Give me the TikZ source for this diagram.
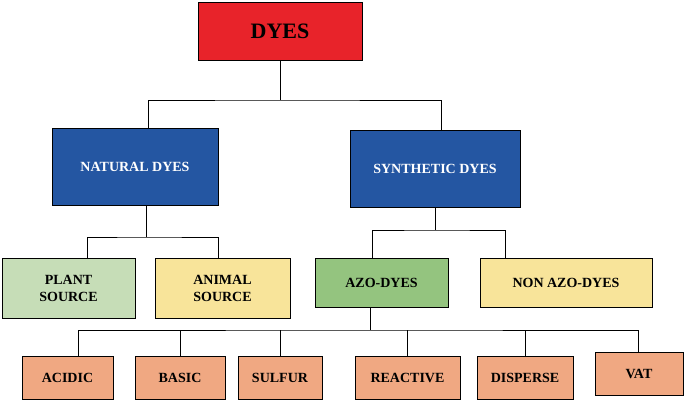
\documentclass[tikz,border=0pt]{standalone}
\usepackage{fontspec}
\setmainfont{Liberation Serif}
\begin{document}
\begin{tikzpicture}[x=1pt,y=-1pt,
  box/.style={draw=black,line width=0.8pt,inner sep=0pt,align=center,font=\bfseries\fontsize{14}{17}\selectfont},
  ln/.style={draw=black,line width=1pt}]
\useasboundingbox (0,0) rectangle (685,400);
\definecolor{cred}{HTML}{E8232A}
\definecolor{cblue}{HTML}{2456A2}
\definecolor{cgreenl}{HTML}{C6DDB7}
\definecolor{cyel}{HTML}{F8E49A}
\definecolor{cgreen}{HTML}{94C47F}
\definecolor{corange}{HTML}{F0A882}
\node[box,fill=cred,minimum width=164pt,minimum height=58pt,font=\bfseries\fontsize{22}{24}\selectfont] (dyes) at (280,31) {DYES};
\node[box,fill=cblue,text=white,minimum width=166pt,minimum height=77pt] (nat) at (135,166.5) {NATURAL DYES};
\node[box,fill=cblue,text=white,minimum width=170pt,minimum height=77pt] (syn) at (435,168.5) {SYNTHETIC DYES};
\node[box,fill=cgreenl,minimum width=133pt,minimum height=60pt] (plant) at (68.5,288) {PLANT\\SOURCE};
\node[box,fill=cyel,minimum width=135pt,minimum height=60pt] (animal) at (222.5,288) {ANIMAL\\SOURCE};
\node[box,fill=cgreen,minimum width=133pt,minimum height=49pt] (azo) at (381.5,282.5) {AZO-DYES};
\node[box,fill=cyel,minimum width=172pt,minimum height=49pt] (nonazo) at (566,282.5) {NON AZO-DYES};
\node[box,fill=corange,minimum width=91pt,minimum height=43pt] (acidic) at (67.5,377.5) {ACIDIC};
\node[box,fill=corange,minimum width=90pt,minimum height=43pt] (basic) at (180,377.5) {BASIC};
\node[box,fill=corange,minimum width=84pt,minimum height=43pt] (sulfur) at (280,377.5) {SULFUR};
\node[box,fill=corange,minimum width=105pt,minimum height=43pt] (reactive) at (407.5,377.5) {REACTIVE};
\node[box,fill=corange,minimum width=96pt,minimum height=43pt] (disperse) at (525,377.5) {DISPERSE};
\node[box,fill=corange,minimum width=88pt,minimum height=43pt] (vat) at (639,373.5) {VAT};
% connectors
\coordinate (j1) at (280,100);
\draw[ln] (dyes.south) -- (j1);
\draw[ln] (nat.north -| 148,0) |- (j1) -| (syn.north -| 441,0);
\coordinate (j2) at (146,237);
\draw[ln] (nat.south -| j2) -- (j2);
\draw[ln] (plant.north -| 87,0) |- (j2) -| (animal.north -| 218,0);
\coordinate (j3) at (435,230);
\draw[ln] (syn.south -| j3) -- (j3);
\draw[ln] (azo.north -| 372,0) |- (j3) -| (nonazo.north -| 505,0);
\coordinate (j4) at (370,330);
\draw[ln] (azo.south -| j4) -- (j4);
\draw[ln] (acidic.north -| 78,0) |- (j4) -| (vat.north -| 638,0);
\foreach \n/\x in {basic/180,sulfur/280,reactive/407,disperse/525}
  \draw[ln] (\n.north -| \x,0) -- (\x,330);
\end{tikzpicture}
\end{document}
